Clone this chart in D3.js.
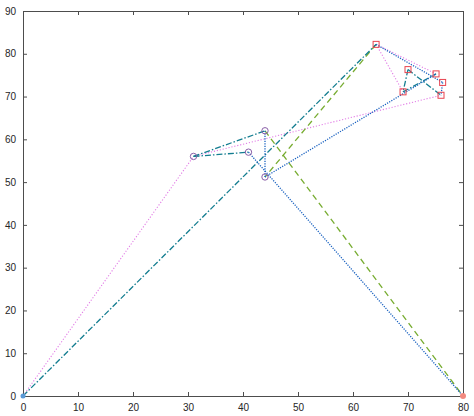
<!DOCTYPE html>
<html>
<head>
<meta charset="utf-8">
<script src="https://cdn.jsdelivr.net/npm/d3@7"></script>
<style>
  body { margin: 0; background: #fff; }
  .tick text { font-family: "Liberation Sans", Arial, sans-serif; font-size: 10px; fill: #262626; }
</style>
</head>
<body>
<script>
// size of the page and the plot box
var svg_Width = 474;
var svg_Height = 416;
var margin = { top: 11, right: 11, bottom: 20, left: 23 };
var chart_Width = svg_Width - margin.left - margin.right;
var chart_Height = svg_Height - margin.top - margin.bottom;

// tick values
var xTicks = [0, 10, 20, 30, 40, 50, 60, 70, 80];
var yTicks = [0, 10, 20, 30, 40, 50, 60, 70, 80, 90];

// nodes: depots, circle customers, square customers
var depotNames = ["S", "E"];
var depotX = [0, 80];
var depotY = [0, 0];

var circleNames = ["c1", "c2", "c3", "c4"];
var circleX = [31, 41, 44, 44];
var circleY = [56, 57, 62, 51.2];

var squareNames = ["s1", "s2", "s3", "s4", "s5", "s6"];
var squareX = [64.2, 69.1, 70, 75.1, 76.3, 76];
var squareY = [82.2, 71.1, 76.3, 75.3, 73.3, 70.3];

// segments grouped by line style
var tealSegs = [["S", "s1"], ["c1", "c3"], ["c1", "c2"], ["s3", "s2"], ["s3", "s6"], ["s2", "s4"]];
var blueSegs = [["c3", "c4"], ["c2", "E"], ["c4", "s4"], ["s1", "s5"], ["s5", "s6"]];
var greenSegs = [["s1", "c4"], ["c3", "E"]];
var pinkSegs = [["S", "c1"], ["c1", "s6"], ["s1", "s2"], ["s1", "s4"]];

// lookup of node positions
var nodes = {};
depotNames.forEach(function(n, i) { nodes[n] = [depotX[i], depotY[i]]; });
circleNames.forEach(function(n, i) { nodes[n] = [circleX[i], circleY[i]]; });
squareNames.forEach(function(n, i) { nodes[n] = [squareX[i], squareY[i]]; });

var svg = d3.select("body")
  .append("svg")
  .attr("width", svg_Width)
  .attr("height", svg_Height);

var chartGroup = svg.append("g")
  .attr("transform", `translate(${margin.left}, ${margin.top})`);

var x = d3.scaleLinear().domain([0, 80]).range([0, chart_Width]);
var y = d3.scaleLinear().domain([0, 90]).range([chart_Height, 0]);

// axes with inward ticks, box style
var axisColor = "#4d4d4d";
function styleAxis(g, hideText) {
  g.select(".domain").attr("stroke", axisColor);
  g.selectAll(".tick line").attr("stroke", axisColor);
  if (hideText) g.selectAll(".tick text").remove();
}

chartGroup.append("g")
  .attr("transform", `translate(0, ${chart_Height})`)
  .call(d3.axisBottom(x).tickValues(xTicks).tickSizeInner(-4).tickSizeOuter(0).tickPadding(8))
  .call(function(g) { styleAxis(g, false); });

chartGroup.append("g")
  .call(d3.axisTop(x).tickValues(xTicks).tickSizeInner(-4).tickSizeOuter(0))
  .call(function(g) { styleAxis(g, true); });

chartGroup.append("g")
  .call(d3.axisLeft(y).tickValues(yTicks).tickSizeInner(-4).tickSizeOuter(0).tickPadding(7))
  .call(function(g) { styleAxis(g, false); });

chartGroup.append("g")
  .attr("transform", `translate(${chart_Width}, 0)`)
  .call(d3.axisRight(y).tickValues(yTicks).tickSizeInner(-4).tickSizeOuter(0))
  .call(function(g) { styleAxis(g, true); });

// route segments
function drawSegs(segs, color, dash, width) {
  chartGroup.append("g")
    .selectAll("line")
    .data(segs)
    .enter()
    .append("line")
    .attr("x1", d => x(nodes[d[0]][0]))
    .attr("y1", d => y(nodes[d[0]][1]))
    .attr("x2", d => x(nodes[d[1]][0]))
    .attr("y2", d => y(nodes[d[1]][1]))
    .attr("stroke", color)
    .attr("stroke-width", width)
    .attr("stroke-dasharray", dash)
    .attr("fill", "none");
}

drawSegs(pinkSegs, "#e27ee6", "1.2,1.8", 1.1);
drawSegs(greenSegs, "#77ac30", "6,4", 1.3);
drawSegs(tealSegs, "#137d90", "6,2,1.5,2", 1.3);
drawSegs(blueSegs, "#1a62c0", "1.2,1.3", 1.3);

// markers
chartGroup.append("g")
  .selectAll("circle")
  .data(circleNames)
  .enter()
  .append("circle")
  .attr("cx", d => x(nodes[d][0]))
  .attr("cy", d => y(nodes[d][1]))
  .attr("r", 3.2)
  .attr("fill", "none")
  .attr("stroke", "#8a5fa8")
  .attr("stroke-width", 1);

chartGroup.append("g")
  .selectAll("rect")
  .data(squareNames)
  .enter()
  .append("rect")
  .attr("x", d => x(nodes[d][0]) - 3)
  .attr("y", d => y(nodes[d][1]) - 3)
  .attr("width", 6)
  .attr("height", 6)
  .attr("fill", "none")
  .attr("stroke", "#e8434f")
  .attr("stroke-width", 1);

// depots
chartGroup.append("circle")
  .attr("cx", x(depotX[0]))
  .attr("cy", y(depotY[0]))
  .attr("r", 2.5)
  .attr("fill", "#5a9ad8");

chartGroup.append("circle")
  .attr("cx", x(depotX[1]))
  .attr("cy", y(depotY[1]))
  .attr("r", 3)
  .attr("fill", "#f28a80");
</script>
</body>
</html>
